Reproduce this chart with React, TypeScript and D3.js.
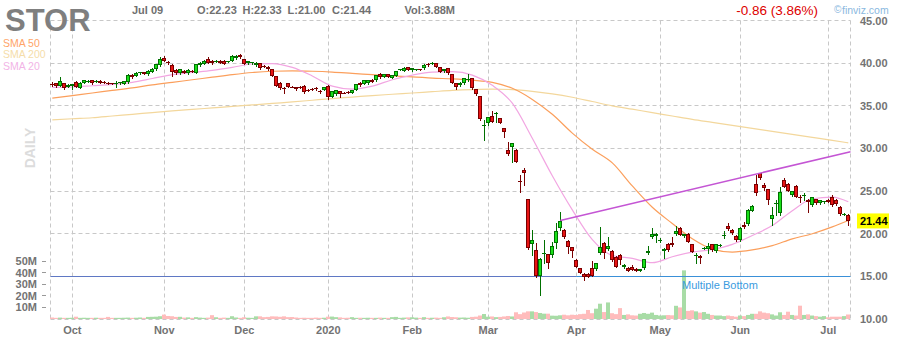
import React from "react";
import * as d3 from "d3";

// ---- DATA ----
const opens = [
  37.60,37.63,37.36,37.63,37.24,37.32,37.75,37.13,37.71,37.88,
  37.99,37.88,37.95,37.78,37.66,37.64,37.70,37.66,37.59,37.75,
  38.65,38.49,38.81,38.92,38.69,39.00,39.31,39.78,40.64,40.15,
  39.78,39.20,38.81,39.12,38.81,39.10,38.88,39.74,39.90,40.45,
  40.29,40.27,40.29,40.29,40.18,40.29,40.57,40.96,40.45,39.98,
  40.04,39.78,39.98,39.72,39.59,39.27,38.49,37.71,37.07,37.63,
  37.25,37.17,37.22,37.32,36.86,37.02,37.13,36.78,36.85,37.32,
  36.07,36.38,36.70,36.55,36.67,36.54,36.85,37.71,37.56,37.63,
  38.02,38.02,38.73,38.42,38.69,38.30,38.49,39.25,39.12,39.51,
  39.20,39.26,39.28,39.39,39.90,39.96,39.98,39.51,39.04,39.39,
  38.69,37.63,37.40,37.63,38.08,38.22,36.93,36.15,32.72,32.94,
  33.80,34.10,33.53,32.36,29.82,30.20,29.82,26.15,27.47,24.03,
  18.80,18.10,15.05,17.66,17.59,17.51,18.95,20.63,20.44,19.15,
  18.41,16.92,15.94,15.28,15.28,15.94,15.83,17.70,18.95,18.17,
  17.98,17.31,17.51,16.06,15.94,16.14,15.87,15.63,15.94,17.70,
  19.58,19.77,19.25,17.98,18.80,18.88,19.97,20.63,19.74,19.97,
  18.76,17.50,17.39,18.27,18.17,18.76,17.98,18.66,19.83,20.91,
  20.44,19.74,19.27,21.03,21.10,22.71,25.83,27.08,25.71,25.21,
  21.69,23.55,22.39,26.30,25.83,24.54,25.60,24.29,24.52,23.96,
  23.33,24.04,23.57,23.74,23.96,24.35,23.96,23.10,22.28,22.23,
];
const highs = [
  37.75,37.70,38.34,37.70,37.50,37.60,37.85,37.78,38.05,38.00,
  38.05,38.02,38.05,37.85,37.75,37.72,37.95,37.80,37.95,38.70,
  38.75,38.95,38.98,39.00,39.15,39.40,39.95,40.70,40.80,40.30,
  39.85,39.30,39.35,39.25,39.30,39.20,39.95,40.15,40.35,40.76,
  40.35,40.40,40.40,40.35,40.30,40.90,40.95,41.05,40.50,40.30,
  40.15,40.10,40.05,39.80,39.65,39.35,38.55,37.80,37.24,37.70,
  37.35,37.25,37.30,37.40,36.95,37.10,37.20,36.85,37.20,37.40,
  36.75,36.90,36.75,36.65,36.75,36.90,37.55,37.80,38.05,38.08,
  38.10,38.62,38.80,38.75,38.75,38.62,39.08,39.35,39.50,39.58,
  39.45,39.35,39.35,39.85,40.00,40.08,40.05,39.60,39.35,39.45,
  38.75,37.70,37.75,38.25,38.73,38.30,37.00,36.20,33.34,33.70,
  34.43,34.30,33.60,32.45,30.80,30.65,29.90,26.89,27.67,24.10,
  20.44,18.88,17.10,19.27,17.65,19.00,21.22,22.59,20.60,19.25,
  18.50,17.00,16.00,15.35,15.40,16.84,16.60,20.75,19.05,19.66,
  18.05,17.40,17.60,16.40,16.10,16.30,15.95,15.90,17.05,18.56,
  20.63,20.05,19.45,18.30,18.90,19.58,20.91,20.75,20.00,20.05,
  18.85,17.70,17.45,18.40,18.95,18.85,18.80,18.75,20.36,21.22,
  20.50,19.80,20.75,21.42,22.85,23.35,26.89,27.15,25.99,25.30,
  23.10,23.96,25.44,26.50,25.90,25.05,25.70,24.54,24.82,24.05,
  24.35,24.10,24.00,23.85,24.05,24.54,24.05,23.20,22.40,22.33,
];
const lows = [
  37.35,37.25,37.30,36.93,37.15,36.97,37.15,37.05,37.65,37.80,
  37.52,37.82,37.62,37.66,37.55,37.55,37.24,37.55,37.55,37.70,
  38.30,38.45,38.75,38.70,38.60,38.95,39.25,39.70,40.20,39.95,
  38.49,38.70,38.75,38.80,38.75,38.95,38.85,39.70,39.85,40.00,
  39.90,40.15,40.00,39.85,40.10,40.25,40.50,40.60,39.85,39.90,
  39.95,39.70,39.35,39.60,39.25,38.45,37.30,37.00,36.54,37.20,
  37.15,36.90,37.10,36.50,36.75,36.90,36.88,36.54,36.80,35.76,
  36.00,36.30,36.07,36.45,36.55,36.50,36.80,37.35,37.50,37.55,
  37.78,37.95,38.30,38.35,38.35,38.25,38.45,39.15,39.05,39.15,
  39.10,39.18,39.20,39.35,39.70,39.90,39.55,38.95,39.00,38.75,
  37.65,37.00,37.35,37.55,37.95,37.00,36.30,33.35,31.00,32.80,
  33.10,33.14,32.95,31.38,29.25,28.45,28.40,24.93,25.71,18.25,
  17.51,14.98,12.82,16.61,16.02,17.30,18.29,20.40,19.50,17.70,
  17.23,16.05,15.35,14.58,14.90,15.00,15.75,17.60,17.12,18.10,
  16.85,16.10,16.45,15.95,15.60,15.70,15.58,15.58,15.90,17.60,
  19.50,19.07,19.05,17.12,18.00,18.60,19.90,19.80,19.65,19.00,
  17.85,16.53,16.61,18.15,17.70,18.00,17.90,18.55,19.46,20.45,
  19.95,19.20,19.20,20.70,21.05,22.65,24.54,26.40,25.13,23.45,
  21.03,22.20,22.20,25.45,24.95,24.45,24.30,23.76,23.96,22.59,
  23.25,23.50,23.50,23.65,23.70,23.28,23.40,22.25,22.15,21.00,
];
const closes = [
  37.45,37.32,37.95,37.05,37.44,37.52,37.24,37.71,37.99,37.92,
  37.71,37.92,37.71,37.74,37.63,37.62,37.72,37.76,37.87,38.61,
  38.34,38.88,38.92,38.77,39.08,39.31,39.90,40.49,40.29,40.05,
  38.92,38.81,39.27,38.88,39.20,39.06,39.90,40.06,40.29,40.06,
  39.98,40.30,40.06,39.90,40.22,40.84,40.84,40.68,39.90,40.21,
  40.08,40.06,39.43,39.68,39.35,38.49,37.36,37.05,37.03,37.24,
  37.22,36.97,37.20,36.62,36.84,37.00,36.93,36.76,37.17,35.99,
  36.70,36.85,36.34,36.53,36.65,36.85,37.52,37.40,38.02,38.02,
  37.83,38.57,38.34,38.69,38.42,38.57,39.04,39.28,39.43,39.20,
  39.39,39.28,39.26,39.78,39.74,39.99,39.59,39.00,39.27,38.81,
  37.71,37.24,37.71,38.22,38.12,37.05,36.34,33.41,32.78,33.65,
  33.14,34.14,33.02,31.97,29.31,30.60,28.45,26.08,27.08,18.29,
  19.27,15.05,17.00,17.72,16.61,18.56,20.32,21.49,19.66,18.49,
  18.02,16.14,15.44,14.97,14.97,15.05,16.53,18.41,17.70,18.56,
  16.92,16.14,16.92,16.34,15.67,15.75,15.63,15.83,17.00,17.98,
  19.93,20.00,19.29,18.21,18.09,18.68,20.32,19.85,19.93,19.07,
  17.90,17.52,17.12,18.31,18.56,18.09,18.76,18.70,19.87,20.52,
  20.05,19.27,20.71,20.75,22.78,23.25,24.82,26.50,25.32,23.96,
  22.20,23.59,24.86,25.52,25.05,25.01,24.35,24.25,24.56,23.68,
  24.27,23.57,23.96,23.78,23.76,23.33,23.49,22.31,22.30,21.44,
];
// volume in millions
const volumes = [
  1.3,1.0,1.2,1.0,1.0,1.1,2.0,1.0,1.1,1.0,
  1.0,1.1,1.0,1.0,1.8,1.0,1.0,1.0,1.1,1.2,
  1.0,1.1,1.3,1.0,1.8,1.9,2.0,2.4,3.8,2.6,
  2.4,1.8,1.9,1.2,1.4,1.0,1.6,1.2,1.0,1.2,
  3.3,1.5,1.0,1.2,1.0,2.4,1.3,1.0,1.5,1.1,
  1.0,2.3,2.3,1.6,1.8,2.3,2.2,1.9,2.3,1.6,
  1.7,1.3,1.0,1.1,1.0,1.0,1.2,1.0,1.1,2.0,
  2.1,1.6,1.4,1.0,1.1,1.6,1.0,1.1,1.0,1.1,
  1.0,1.0,1.2,1.0,1.0,1.6,1.8,1.0,1.2,1.4,
  1.5,1.2,1.0,1.6,1.0,1.1,1.2,1.0,1.5,2.2,
  1.7,1.5,1.2,1.3,1.1,1.8,2.0,3.0,4.3,2.0,
  2.2,1.6,1.8,2.2,2.6,2.2,5.8,4.2,5.6,6.6,
  6.6,6.0,5.2,4.6,4.6,2.9,2.8,3.2,3.7,3.2,
  3.7,3.5,4.2,4.5,7.8,5.0,8.9,13.2,6.0,14.3,
  5.0,4.2,9.4,3.5,4.0,3.2,3.0,4.5,5.2,4.5,
  5.5,3.5,3.0,3.2,3.4,3.2,11.4,10.0,42.0,7.0,
  7.5,6.6,5.5,6.0,4.5,3.5,3.0,3.0,2.5,3.0,
  2.5,2.0,3.0,2.5,3.5,4.5,4.5,6.6,5.5,5.0,
  4.0,3.0,5.8,3.5,6.3,3.5,3.0,11.5,3.5,4.0,
  3.0,2.5,2.0,2.5,1.5,2.0,2.0,2.0,2.5,3.88,
];
// moving averages, sampled every 5 sessions
const smaIdx = [0,5,10,15,20,25,30,35,40,45,50,55,60,65,70,75,80,85,90,95,100,105,110,115,120,125,130,135,140,145,150,155,160,165,170,175,180,185,190,195,199];
const sma20 = [37.15,37.2,37.35,37.5,37.75,38.2,38.65,38.9,39.15,39.5,39.9,39.95,39.5,38.5,37.3,36.95,37.3,38.05,38.6,38.95,39.0,38.6,37.4,35.3,31.2,26.8,22.8,19.3,17.45,17.1,16.6,17.3,17.85,18.15,18.75,19.8,20.95,22.7,24.1,24.3,23.75];
const sma50 = [35.9,36.2,36.5,36.8,37.1,37.45,37.75,38.05,38.35,38.65,38.9,39.05,39.1,39.05,38.95,38.8,38.65,38.5,38.4,38.25,38.15,38.0,37.75,37.05,35.75,34.0,31.8,29.9,28.3,25.6,23.1,21.2,19.4,18.2,17.85,18.1,18.6,19.4,20.0,20.8,21.55];
const sma200 = [33.35,33.48,33.6,33.8,34.0,34.2,34.4,34.58,34.75,34.92,35.1,35.28,35.45,35.65,35.85,36.02,36.2,36.35,36.5,36.65,36.8,36.9,36.95,36.9,36.7,36.4,36.0,35.5,35.0,34.6,34.2,33.8,33.4,33.05,32.7,32.35,32.0,31.65,31.3,30.95,30.65];
const monthLabels = ["Oct","Nov","Dec","2020","Feb","Mar","Apr","May","Jun","Jul"];
const monthIdx = [5,28,48,69,90,109,131,152,172,194];
const priceTicks = [45,40,35,30,25,20,15,10];
const volTicks = [50,40,30,20,10];
const trendIdx = [127,177];
const trendPrice = [21.55,27.11];
const supportPrice = 14.95;
const ticker = "STOR";
const lastDate = "Jul 09";
const lastVolume = "3.88M";
const smaNames = ["SMA 50","SMA 200","SMA 20"];

const FONT = "Arial, 'Liberation Sans', sans-serif";

export default function App() {
  const n = closes.length;
  const x = d3.scaleLinear().domain([0, n - 1]).range([52.3, 848.3]);
  const y = d3.scaleLinear().domain([10, 45]).range([319, 20.5]);
  const yv = d3.scaleLinear().domain([0, 50]).range([319, 261.1]);
  const left = 50.5, right = 850.5, top = 20.5, bottom = 319.5;
  const px = (i: number) => Math.floor(x(i));
  const py = (v: number) => Math.round(y(v));

  const smaLine = (vals: number[]) =>
    d3.line<number>()
      .x((_, k) => x(smaIdx[k]))
      .y((v) => y(v))
      .curve(d3.curveMonotoneX)(vals) || "";

  const slope = (trendPrice[1] - trendPrice[0]) / (trendIdx[1] - trendIdx[0]);
  const endIdx = x.invert(right);
  const trendEndPrice = trendPrice[0] + slope * (endIdx - trendIdx[0]);

  const last = n - 1;
  const chg = closes[last] - closes[last - 1];
  const pct = Math.abs(chg / closes[last - 1]) * 100;

  const upFill = "#19e019", upLine = "#007000";
  const dnFill = "#e81414", dnLine = "#7a0000";
  const grid = "#c8c8c8";
  const axisText = "#737373";
  const supY = Math.floor(y(supportPrice)) + 0.5;

  return (
    <svg width={900} height={340} style={{ position: "absolute", left: 0, top: 0, display: "block", background: "#fff" }} fontFamily={FONT}>
      <rect x={0} y={0} width={900} height={340} fill="#fff" />
      {/* grid */}
      {priceTicks.map((p) => (
        <line key={"h" + p} x1={left} x2={right} y1={Math.floor(y(p)) + 0.5} y2={Math.floor(y(p)) + 0.5} stroke={grid} strokeDasharray="4 3" />
      ))}
      {monthIdx.map((m) => (
        <line key={"v" + m} x1={px(m) + 0.5} x2={px(m) + 0.5} y1={top} y2={bottom} stroke={grid} strokeDasharray="4 3" />
      ))}
      <line x1={left} x2={left} y1={top} y2={bottom} stroke={grid} strokeDasharray="4 3" />
      <line x1={right} x2={right} y1={top} y2={bottom} stroke={grid} strokeDasharray="4 3" />

      {/* volume */}
      {volumes.map((v, i) => {
        const up = closes[i] >= opens[i];
        const yt = yv(v);
        return (
          <rect key={"vol" + i} x={px(i) - 2} y={yt} width={4} height={yv(0) - yt} fill={up ? "#a8dca6" : "#ffbcbc"} />
        );
      })}

      {/* support line */}
      <line x1={left} x2={x(131)} y1={supY} y2={supY} stroke="#5f78c4" strokeWidth={1.2} />
      <line x1={x(131)} x2={right} y1={supY} y2={supY} stroke="#3a90d8" strokeWidth={1.2} />
      <text x={682} y={289} fontSize={11} fill="#3a9be0">Multiple Bottom</text>

      {/* moving averages */}
      <path d={smaLine(sma200)} fill="none" stroke="#f3d79c" strokeWidth={1.2} />
      <path d={smaLine(sma50)} fill="none" stroke="#fb9f5c" strokeWidth={1.2} />
      <path d={smaLine(sma20)} fill="none" stroke="#f2a6e2" strokeWidth={1.2} />

      {/* candles */}
      {closes.map((c, i) => {
        const o = opens[i];
        const up = c >= o;
        const cx = px(i);
        const yTop = py(Math.max(o, c));
        const yBot = py(Math.min(o, c));
        const h = yBot - yTop;
        const line = up ? upLine : dnLine;
        return (
          <g key={"c" + i} shapeRendering="crispEdges">
            <line x1={cx + 0.5} x2={cx + 0.5} y1={py(highs[i])} y2={py(lows[i]) + 1} stroke={line} />
            {h >= 2 ? (
              <rect x={cx - 1.5} y={yTop + 0.5} width={3} height={h - 1} fill={up ? upFill : dnFill} stroke={line} />
            ) : (
              <rect x={cx - 2} y={yTop} width={4} height={Math.max(1, h)} fill={line} />
            )}
          </g>
        );
      })}

      {/* trend line */}
      <line x1={x(trendIdx[0])} y1={y(trendPrice[0])} x2={right} y2={y(trendEndPrice)} stroke="#c455d4" strokeWidth={1.6} />

      {/* price axis */}
      {priceTicks.map((p) => (
        <text key={"pt" + p} x={860} y={y(p) + 4} fontSize={11} fontWeight="bold" fill={axisText}>{p.toFixed(2)}</text>
      ))}
      <rect x={857} y={y(closes[last]) - 8} width={32} height={15} fill="#ffff00" />
      <text x={860} y={y(closes[last]) + 4} fontSize={11} fontWeight="bold" fill="#000">{closes[last].toFixed(2)}</text>

      {/* volume axis */}
      {volTicks.map((v) => (
        <g key={"vt" + v}>
          <text x={37} y={yv(v) + 4} fontSize={11} fontWeight="bold" fill={axisText} textAnchor="end">{v + "M"}</text>
          <line x1={42} x2={46} y1={Math.floor(yv(v)) + 0.5} y2={Math.floor(yv(v)) + 0.5} stroke="#999" />
        </g>
      ))}

      {/* month labels */}
      {monthIdx.map((m, k) => (
        <text key={"ml" + m} x={x(m)} y={334} fontSize={11} fontWeight="bold" fill={axisText} textAnchor="middle">{monthLabels[k]}</text>
      ))}

      {/* header */}
      <text x={5} y={30.5} fontSize={31} fontWeight="bold" fill="#7f7f7f">{ticker}</text>
      <text x={132} y={14} fontSize={11} fontWeight="bold" fill="#707070">{lastDate}</text>
      <text x={197} y={14} fontSize={11} fontWeight="bold" fill="#707070">{"O:" + opens[last].toFixed(2)}</text>
      <text x={242.5} y={14} fontSize={11} fontWeight="bold" fill="#707070">{"H:" + highs[last].toFixed(2)}</text>
      <text x={287.5} y={14} fontSize={11} fontWeight="bold" fill="#707070">{"L:" + lows[last].toFixed(2)}</text>
      <text x={332} y={14} fontSize={11} fontWeight="bold" fill="#707070">{"C:" + closes[last].toFixed(2)}</text>
      <text x={404.5} y={14} fontSize={11} fontWeight="bold" fill="#707070">{"Vol:" + lastVolume}</text>
      <text x={818} y={15} fontSize={13.5} fill="#dd0000" textAnchor="end">{`${chg.toFixed(2)} (${pct.toFixed(2)}%)`}</text>
      <text x={834} y={13} fontSize={10} fill="#8ab8e0">©</text>
      <text x={842} y={14} fontSize={10.5} fill="#8ab8e0">finviz.com</text>

      {/* legend */}
      <text x={3} y={46.5} fontSize={10.5} fill="#ffa468">{smaNames[0]}</text>
      <text x={3} y={58} fontSize={10.5} fill="#f5ddaa">{smaNames[1]}</text>
      <text x={3} y={69.5} fontSize={10.5} fill="#f2b4e6">{smaNames[2]}</text>

      <text transform="translate(35,148) rotate(-90)" fontSize={14} fontWeight="bold" fill="#dcdcdc" textAnchor="middle">DAILY</text>
    </svg>
  );
}
